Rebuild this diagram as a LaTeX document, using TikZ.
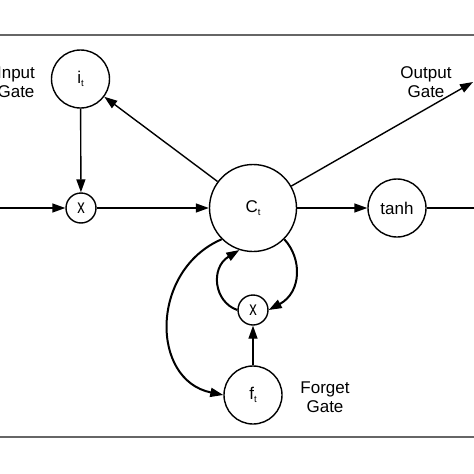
\documentclass[tikz,border=0pt]{standalone}
\usepackage{fontspec}
\setmainfont{Liberation Sans}
\usetikzlibrary{arrows.meta}
\newcommand{\subt}[2]{#1\raisebox{-3.5pt}{\fontsize{9.5}{9.5}\selectfont #2}}
\begin{document}
\begin{tikzpicture}[x=1pt,y=-1pt,
  circ/.style={circle,draw,line width=1.4pt,inner sep=0pt,minimum size=#1,font=\fontsize{17}{19}\selectfont},
  lbl/.style={align=center,font=\fontsize{17}{19}\selectfont},
  conn/.style={line width=1.4pt,-{Triangle[length=13pt,width=9pt]}},
  curv/.style={line width=2pt,-{Triangle[length=13pt,width=9pt]}},
  edge/.style={line width=1.6pt,draw=black!60}]
\useasboundingbox (0,0) rectangle (474,474);
\fill[white] (0,0) rectangle (474,474);
% frame lines
\coordinate (tl) at (0,35); \coordinate (tr) at (474,35);
\coordinate (bl) at (0,437); \coordinate (br) at (474,437);
\draw[edge] (tl) -- (tr);
\draw[edge] (bl) -- (br);
% nodes
\node[circ=58pt] (it) at (80.5,79) {\subt{i}{t}};
\node[circ=30pt] (xin) at (81,208) {\scalebox{0.75}[1]{\fontsize{20}{20}\selectfont x}};
\node[circ=87pt] (ct) at (253,208) {\subt{C}{t}};
\node[circ=58pt] (tanh) at (397,208) {tanh};
\node[circ=30pt] (xf) at (253,310) {\scalebox{0.75}[1]{\fontsize{20}{20}\selectfont x}};
\node[circ=58pt] (ft) at (253,395) {\subt{f}{t}};
% labels
\node[lbl] (inlab) at (16,82) {Input\\Gate};
\node[lbl] (outlab) at (426,82) {Output\\Gate};
\node[lbl] (forlab) at (325,397) {Forget\\Gate};
% free ends
\coordinate (inL) at (0,208);
\coordinate (outR) at (474,208);
\coordinate (og) at (473,82);
% straight connectors
\draw[conn] (inL) -- (xin);
\draw[conn] (it) -- (xin);
\draw[conn] (xin) -- (ct);
\draw[conn] (ct) -- (it);
\draw[conn] (ct) -- (og);
\draw[conn] (ct) -- (tanh);
\draw[line width=1.4pt] (tanh) -- (outR);
\draw[conn] (ft) -- (xf);
% curved connectors
\draw[curv] (ct.225) .. controls (150,270) and (150,380) .. (ft.west);
\draw[curv] (xf.west) .. controls (214,302) and (210,268) .. (ct.252);
\draw[curv] (ct.-45) .. controls (302,258) and (302,292) .. (xf.east);
\end{tikzpicture}
\end{document}
